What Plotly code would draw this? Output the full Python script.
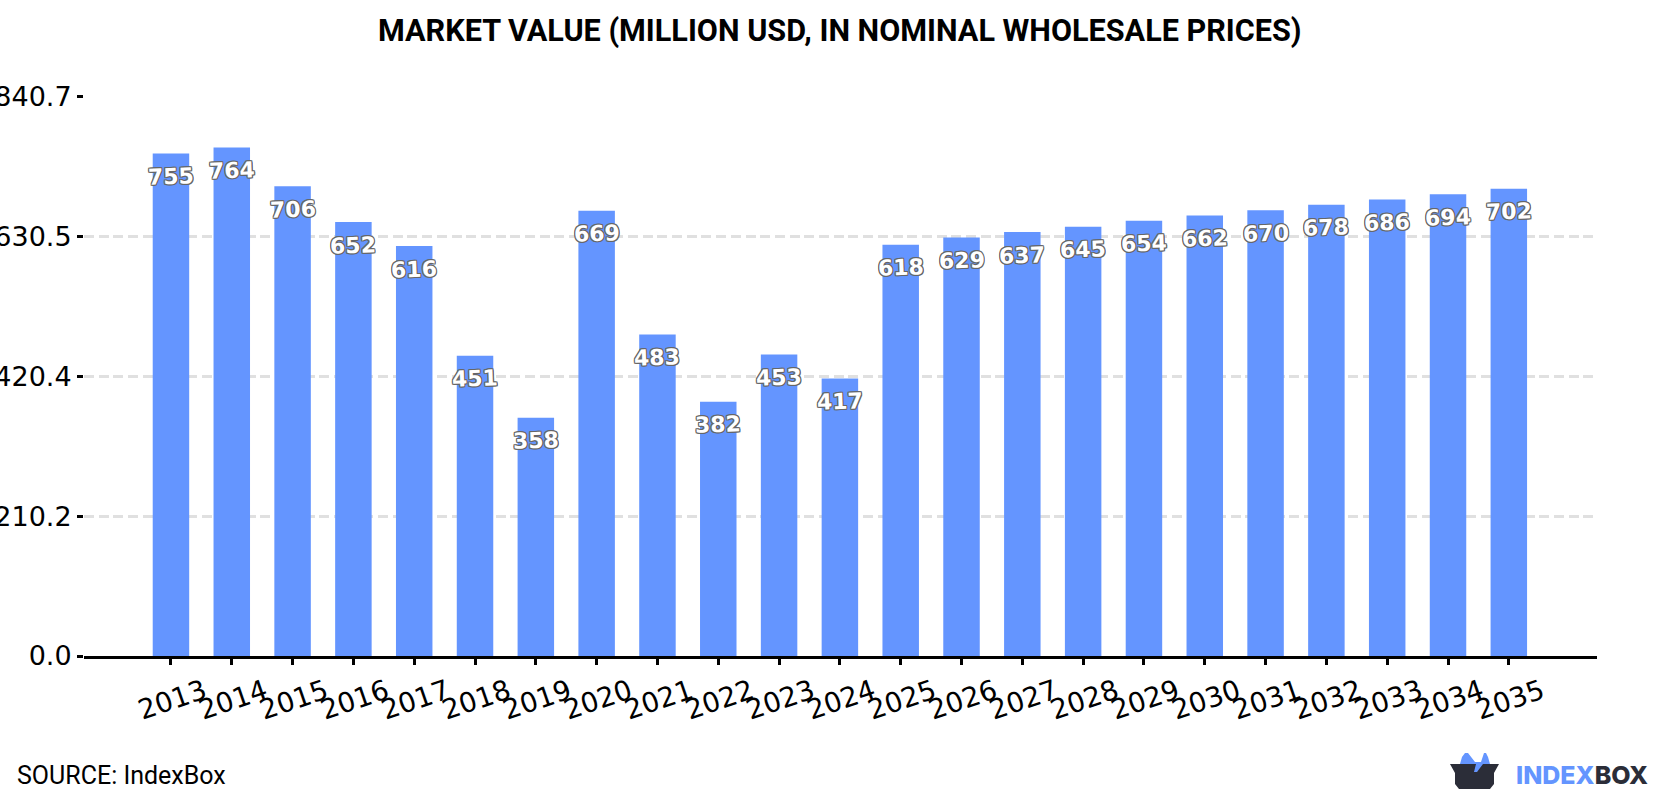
import plotly.graph_objects as go

years = [str(y) for y in range(2013, 2036)]
values = [755, 764, 706, 652, 616, 451, 358, 669, 483, 382, 453, 417,
          618, 629, 637, 645, 654, 662, 670, 678, 686, 694, 702]
y_ticks = [0.0, 210.2, 420.4, 630.5, 840.7]
y_labels = ["0.0", "210.2", "420.4", "630.5", "840.7"]

BLUE = "#6495ff"
DARK = "#2b2d38"
W, H = 1680, 800

# Plot area in pixels
L, R, T, B = 84, 1597, 96, 656
Y_MAX = 841.5


def fx(x):
    """Page pixel to paper fraction of the plot area, horizontally."""
    return (x - L) / (R - L)


def fy(y):
    """Page pixel to paper fraction of the plot area, vertically."""
    return (B - y) / (B - T)


outline = ("1px 0 0 #666, -1px 0 0 #666, 0 1px 0 #666, 0 -1px 0 #666, "
           "1px 1px 0 #666, -1px -1px 0 #666, 1px -1px 0 #666, -1px 1px 0 #666")

fig = go.Figure(go.Bar(x=years, y=values, width=0.6,
                       marker=dict(color=BLUE, line=dict(width=0)),
                       hoverinfo="x+y"))

# Category axes take annotation positions as category indexes
annotations = [
    dict(x=i, y=v, xref="x", yref="y", text=str(v), showarrow=False,
         yanchor="middle", yshift=-23, textangle=-2,
         font=dict(family="DejaVu Sans", size=22, color="white",
                   weight="bold", shadow=outline))
    for i, v in enumerate(values)
]
annotations += [
    dict(x=fx(840), y=fy(31), xref="paper", yref="paper", yanchor="middle",
         xanchor="center", showarrow=False,
         text="<b>MARKET VALUE (MILLION USD, IN NOMINAL WHOLESALE PRICES)</b>",
         font=dict(family="Roboto", size=30.6, color="black")),
    dict(x=fx(15), y=fy(775), xref="paper", yref="paper", yanchor="middle",
         xanchor="left", showarrow=False, text="SOURCE: IndexBox",
         font=dict(family="Roboto", size=25, color="black")),
    dict(x=fx(1514), y=fy(775), xref="paper", yref="paper", yanchor="middle",
         xanchor="left", showarrow=False,
         text=f'<span style="color:{BLUE}">INDEX</span>BOX',
         font=dict(family="Inter", size=25, color=DARK, weight=800)),
]


def path(points):
    return "M " + " L ".join(f"{fx(x):.5f},{fy(y):.5f}" for x, y in points) + " Z"


# Logo: a dark box with blue flaps rising out of it
logo = [
    dict(type="path", xref="paper", yref="paper", line_width=0, fillcolor=BLUE,
         path=path([(1460, 764), (1462, 757), (1465, 753), (1468, 753), (1475, 762),
                    (1481, 762), (1484, 753), (1486, 753), (1488, 757), (1490, 764),
                    (1477, 772), (1460, 772)])),
    dict(type="path", xref="paper", yref="paper", line_width=0, fillcolor=DARK,
         path=path([(1450, 764), (1476, 764), (1474, 772), (1477, 772), (1483, 764),
                    (1499, 764), (1494, 773), (1494, 784), (1490, 789), (1459, 789),
                    (1455, 784), (1455, 773)])),
]

fig.update_layout(
    width=W, height=H, autosize=False,
    margin=dict(l=L, r=W - R, t=T, b=H - B, pad=0),
    paper_bgcolor="white", plot_bgcolor="white",
    showlegend=False, bargap=0.4,
    annotations=annotations, shapes=logo,
    xaxis=dict(type="category", range=[-1.43, 23.45], showgrid=False,
               ticks="outside", ticklen=6, tickwidth=2.5, tickcolor="black",
               showline=True, linecolor="black", linewidth=3,
               tickangle=-19, automargin=False, ticklabelshift=33,
               tickfont=dict(family="DejaVu Sans", size=27.5, color="black")),
    yaxis=dict(range=[0, Y_MAX], tickvals=y_ticks, ticktext=y_labels,
               ticks="outside", ticklen=6, tickwidth=2.5, tickcolor="black",
               showline=False, zeroline=False, automargin=False,
               showgrid=True, gridcolor="#e0e0e0", griddash="10px,4.7px", gridwidth=2.5,
               tickfont=dict(family="DejaVu Sans", size=27, color="black")),
)

fig.write_html("out.html", config=dict(displayModeBar=False))
